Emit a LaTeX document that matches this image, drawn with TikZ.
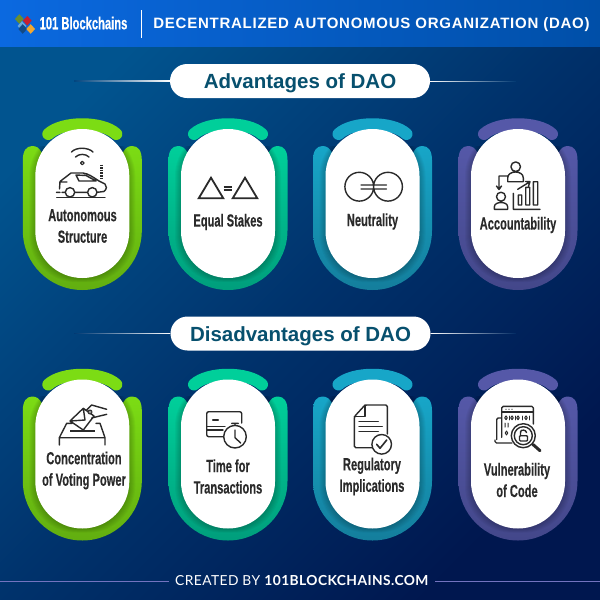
\documentclass[tikz,border=0pt]{standalone}
\usepackage{fontspec}
\setmainfont{Liberation Sans}
\newfontfamily\condfont[FakeStretch=.635,FakeBold=.25]{Liberation Sans}
\newfontfamily\logofont[FakeStretch=.64,FakeBold=.3]{Liberation Sans}
\newfontfamily\titlefont[LetterSpace=5]{Liberation Sans}
\newfontfamily\footfont[LetterSpace=3]{Lato}
\definecolor{limeA}{HTML}{7CDC14}
\definecolor{limeB}{HTML}{62AE10}
\definecolor{mintA}{HTML}{00CF9A}
\definecolor{mintB}{HTML}{009E7C}
\definecolor{cyanA}{HTML}{17A6C8}
\definecolor{cyanB}{HTML}{147E9C}
\definecolor{violetA}{HTML}{5558A8}
\definecolor{violetB}{HTML}{43478A}
\definecolor{inkcol}{HTML}{2A2A2A}
\definecolor{headcol}{HTML}{07506E}
\definecolor{bgA}{HTML}{01548F}
\definecolor{bgB}{HTML}{00174F}
\definecolor{hdA}{HTML}{0B69E0}
\definecolor{hdB}{HTML}{004FA8}
\tikzset{
  icon/.style={draw=inkcol, line width=1.4pt, line join=round, line cap=round},
  thickicon/.style={icon, line width=2pt},
  cardlabel/.style={font=\condfont\bfseries\fontsize{17.5}{21.5}\selectfont, text=inkcol, align=center, inner sep=0pt},
  banner/.style={fill=white, rounded corners=17pt, minimum width=260pt, minimum height=34pt, inner sep=0pt,
    text height=17pt, text depth=2pt, font=\bfseries\fontsize{20.5}{24}\selectfont, text=headcol},
}
\newcommand{\daocard}[3]{
  \begin{scope}[shift={(#1,0)}]
    \draw[#2, line width=12pt, line cap=round] (-34,134) .. controls (-20,121) and (20,121) .. (34,134);
    \path[shade, top color=#2, middle color=#2, bottom color=#3] (-59.5,160) .. controls (-59.5,151) and (-56,146) .. (-50,146)
      .. controls (-46,146) and (-43,148) .. (-41,152) -- (41,152) .. controls (43,148) and (46,146) .. (50,146)
      .. controls (56,146) and (59.5,151) .. (59.5,160) -- (59.5,230.5)
      .. controls (59.5,263.4) and (32.9,290) .. (0,290) .. controls (-32.9,290) and (-59.5,263.4) .. (-59.5,230.5) -- cycle;
    \begin{scope}
      \clip (-59.5,146) rectangle (59.5,290) ;
      \foreach \s in {1,...,6}
        \fill[black, opacity=.035, rounded corners=47pt] (-47-\s,129) rectangle (47+\s,278+.7*\s);
    \end{scope}
    \fill[white, rounded corners=47pt] (-47,129) rectangle (47,278);
  \end{scope}
}
\begin{document}
\begin{tikzpicture}[x=1pt, y=-1pt]
\useasboundingbox (0,0) rectangle (600,600);
\shade[top color=bgA, bottom color=bgB, middle color=bgA!45!bgB, shading angle=45] (0,0) rectangle (600,600);
\shade[left color=hdA, right color=hdB] (0,0) rectangle (600,46);
\foreach \lx/\ly/\lc in {19.3/19/6A8E2E, 27.3/20.7/C8202F, 22/26/6AA8D8, 22.7/29/134A85, 30.7/29/F4A72E}{
  \definecolor{logocol}{HTML}{\lc}
  \fill[logocol] (\lx-4.4,\ly) -- (\lx,\ly-4.8) -- (\lx+4.4,\ly) -- (\lx,\ly+4.8) -- cycle;
}
\node[text=white, inner sep=0pt, font=\logofont\bfseries\fontsize{17.5}{17.5}\selectfont] (logotext) at (83.5,23) {101 Blockchains};
\draw[white, line width=1.3pt] (141.5,10) -- (141.5,38);
\node[text=white, inner sep=0pt, font=\titlefont\bfseries\fontsize{15}{15}\selectfont] (title) at (371.5,25) {DECENTRALIZED AUTONOMOUS ORGANIZATION (DAO)};
\node[banner] (advbanner) at (300,81) {Advantages of DAO};
\shade[left color=bgA!75!bgB, right color=white] (74,80.6) rectangle (advbanner.west);
\shade[left color=white, right color=bgA!55!bgB] (advbanner.east) rectangle (516,81.4);
\node[banner] (disbanner) at (300.5,333.5) {Disadvantages of DAO};
\shade[left color=bgA!55!bgB, right color=white] (74,333.1) rectangle (disbanner.west);
\shade[left color=white, right color=bgA!30!bgB] (disbanner.east) rectangle (516,333.9);
\foreach \dy in {0,250.5}{
  \begin{scope}[shift={(0,\dy)}]
    \daocard{82.3}{limeA}{limeB}
    \daocard{228}{mintA}{mintB}
    \daocard{372.5}{cyanA}{cyanB}
    \daocard{518}{violetA}{violetB}
  \end{scope}
}
\node[cardlabel] (autonomous) at (82.5,226) {Autonomous\\Structure};
\node[cardlabel] (stakes) at (228,222) {Equal Stakes};
\node[cardlabel] (neutrality) at (372.5,221.5) {Neutrality};
\node[cardlabel] (accountability) at (518,225) {Accountability};
\node[cardlabel] (voting) at (84,470.5) {Concentration\\of Voting Power};
\node[cardlabel] (timefor) at (228,476.5) {Time for\\Transactions};
\node[cardlabel] (regulatory) at (372,476.5) {Regulatory\\Implications};
\node[cardlabel] (vulnerability) at (517,480) {Vulnerability\\of Code};
% car
\draw[icon] (71.5,152) .. controls (76,147) and (88,147) .. (93,152)
  (75.5,157) .. controls (79,153.5) and (85.5,153.5) .. (89,157);
\draw[icon, line width=1.2pt] (82.3,163) circle (1.8);
\draw[icon, line width=2.6pt, line cap=butt, dash pattern=on 1.6pt off 1pt] (101.7,164.5) -- (101.7,179);
\draw[icon] (56.7,197.5) -- (105,197.5);
\draw[icon] (70,192.3) circle (4.7) (92.3,192.3) circle (4.7)
  (65.3,192.3) -- (62,192.3) (56.5,192.3) -- (60,192.3) (74.7,192.3) -- (87.6,192.3)
  (97,192.3) -- (104,191.5) .. controls (107,189) and (107,186) .. (105,184) -- (99,181) .. controls (93,177) and (88,173.5) .. (83,173) -- (71,173)
  -- (60,181.5) -- (59.5,189)
  (76,175) -- (79,181) -- (96,181) -- (86,175.5) -- cycle (60,182) -- (67,182);
% triangles
\draw[icon, line width=1.8pt, line cap=butt, line join=miter] (211,177.7) -- (198.7,198.3) -- (223.3,198.3) -- cycle
  (245,177.7) -- (232.7,198.3) -- (257.3,198.3) -- cycle;
\draw[thickicon, line cap=butt] (223.6,186.7) -- (232.4,186.7) (223.6,190.2) -- (232.4,190.2);
% two circles
\draw[icon] (359.3,186.7) circle (14.4) (388,186.7) circle (14.4) (361,185) -- (386.5,185) (361,189) -- (386.5,189);
% people and chart
\draw[icon] (515.7,166.7) circle (4.8) (507.7,181.7) -- (507.7,178) .. controls (507.7,170) and (523.3,170) .. (523.3,178) -- (523.3,181.7) -- cycle
  (507.7,176) -- (499,176) -- (499,189) (496.5,186) -- (499,189.5) -- (501.5,186)
  (501,196.7) circle (4.5) (494.3,209.3) -- (494.3,207) .. controls (494.3,201) and (507.7,201) .. (507.7,207) -- (507.7,209.3) -- cycle
  (513.3,193.3) -- (513.3,209.3) -- (540,209.3)
  (518.3,195) rectangle (521.7,205) (525.7,187.3) rectangle (529.7,205) (533.3,181.7) rectangle (537.7,205)
  (517.7,189.3) -- (530,181.7) (525.5,181.5) -- (530,181.7) -- (528.5,186);
% ballot
\draw[icon] (59.3,445) -- (59.3,437.7) -- (105,437.7) -- (105,445)
  (59.3,437.7) -- (66.7,423.3) -- (72,423.3) (105,437.7) -- (100,423.3) -- (96,423.3)
  (83.3,408.3) -- (70,421) -- (83.3,430) -- (94,416) -- cycle (83.3,408.3) -- (85,420) -- (70,421)
  (86.7,410) -- (91.7,405) -- (106.7,409.3) (91.7,418) -- (106.7,414.3);
\draw[thickicon, line cap=butt] (70,430.7) -- (95,430.7);
\draw[icon, line width=1pt, fill=inkcol!50] (90,412) circle (2);
% card and clock
\draw[icon, rounded corners=2pt] (223,436.7) -- (206.7,436.7) -- (206.7,411.7) -- (241.7,411.7) -- (241.7,423);
\draw[icon] (206.7,426.7) -- (225,426.7) (206.7,430) -- (223,430) (212.7,420) -- (218.3,420);
\draw[icon, fill=white] (235,436.7) circle (11.3);
\draw[icon] (235,425.4) -- (235,423.3) (231.7,423.3) -- (238.3,423.3) (235,430) -- (235,437.7) -- (240.7,443);
% document
\draw[icon, rounded corners=1.5pt] (381,447.7) -- (354.3,447.7) -- (354.3,416.7) -- (365,405) -- (387.3,405) -- (387.3,434);
\draw[icon] (365,405) -- (365,416.7) -- (354.3,416.7) (359,421.7) -- (378.3,421.7) (359,426.7) -- (382.3,426.7) (359,431.7) -- (378.3,431.7);
\draw[icon, fill=white] (381.7,444.3) circle (9.8);
\draw[icon, line width=1.6pt] (376.7,444.3) -- (380,448.3) -- (386.7,440);
% laptop and lens
\draw[icon, rounded corners=1.5pt] (501.7,437.3) -- (501.7,406.3) -- (533.3,406.3) -- (533.3,424)
  (501.7,418) -- (496.7,418) -- (496.7,439.5) (495,440) -- (495,443) -- (512,443);
\draw[icon] (501.7,412) -- (533.3,412);
\foreach \ax in {506,509,512}
  \fill[inkcol] (\ax,409.2) circle (.7);
\foreach \ax in {506,512,518,526}
  \draw[icon, line width=1pt] (\ax,417.8) ellipse (1.3 and 1.9);
\foreach \ax in {509,515,522,529}
  \draw[icon, line width=1pt] (\ax,416) -- (\ax,419.8);
\draw[icon, line width=1pt] (505,423) -- (505,427) (508,423) -- (508,427) (506.5,433) ellipse (1.3 and 1.9);
\draw[icon, fill=white] (523.3,435.7) circle (12);
\draw[icon] (523.3,435.7) circle (9);
\draw[icon, line width=3pt] (533,444.5) -- (540,450.7);
\draw[icon, rounded corners=1pt] (519.5,435.7) rectangle (527.5,441) (520.5,435.7) -- (520.5,432.5) .. controls (521,429.5) and (526,429.5) .. (526.5,432.5);
\node[text=white, inner xsep=6.5pt, inner ysep=0pt, font=\footfont\fontsize{13.8}{14}\selectfont] (footer) at (302,581) {CREATED BY \textbf{101BLOCKCHAINS.COM}};
\draw[white!60!blue!75!black, line width=.9pt] (0,581) -- (footer.west) (footer.east) -- (600,581);
\end{tikzpicture}
\end{document}
